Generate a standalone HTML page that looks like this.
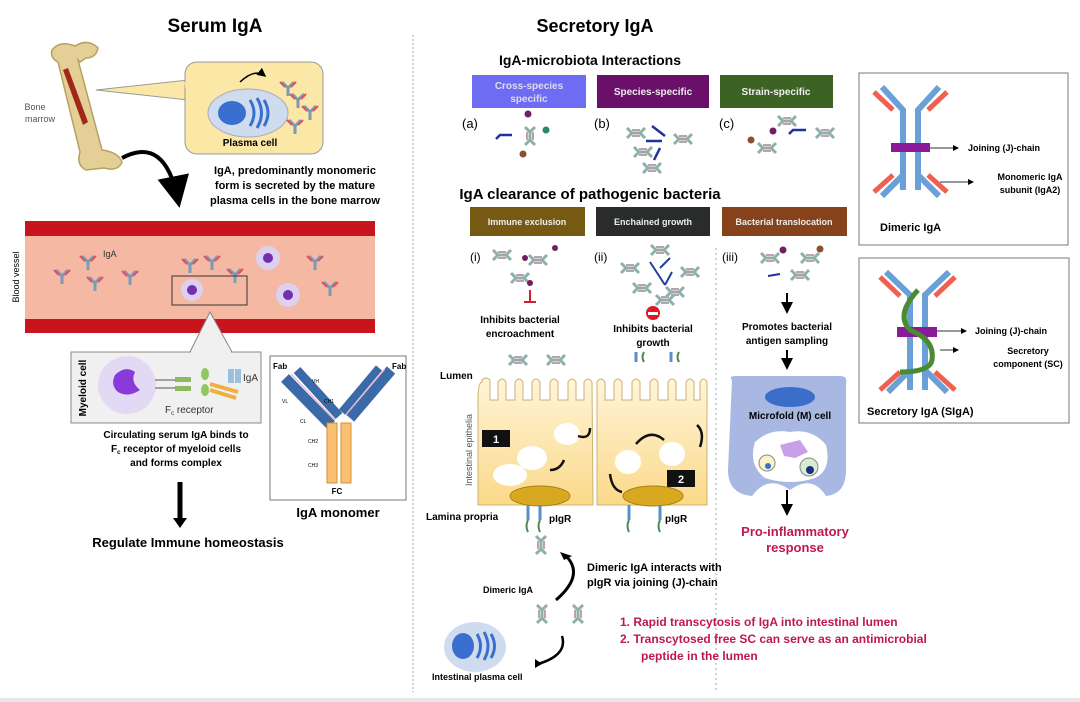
<!DOCTYPE html>
<html><head><meta charset="utf-8"><style>
html,body{margin:0;padding:0;background:#fff;}
svg{display:block;font-family:"Liberation Sans",Arial,sans-serif;}
.b{font-weight:bold;}
</style></head><body>
<svg width="1080" height="702" viewBox="0 0 1080 702" xmlns="http://www.w3.org/2000/svg">
<defs>
<g id="ab">
 <path d="M0,0 L0,8 M0,0 L-6,-6 M0,0 L6,-6" stroke="#7a9bb8" stroke-width="3" fill="none"/>
 <path d="M-3,-1 L-8,-6 M3,-1 L8,-6" stroke="#e05060" stroke-width="2" fill="none"/>
</g>
<g id="sab">
 <path d="M-9,-5 L-4,0 L4,0 L9,-5 M-9,5 L-4,0 M4,0 L9,5" stroke="#8fb0a8" stroke-width="3" fill="none"/>
 <path d="M-4,-3 L4,-3 M-4,3 L4,3" stroke="#c0a0b0" stroke-width="2"/>
</g>
<marker id="ah" markerWidth="8" markerHeight="8" refX="6" refY="4" orient="auto"><path d="M0,0 L8,4 L0,8z" fill="#000"/></marker>
<marker id="ahs" markerWidth="6" markerHeight="6" refX="5" refY="3" orient="auto"><path d="M0,0 L6,3 L0,6z" fill="#000"/></marker>
<linearGradient id="cellg" x1="0" y1="0" x2="0" y2="1"><stop offset="0" stop-color="#fff5d8"/><stop offset="1" stop-color="#fbd98a"/></linearGradient>
</defs>

<line x1="413" y1="35" x2="413" y2="692" stroke="#9ab" stroke-dasharray="2,2"/>
<rect x="0" y="698" width="1080" height="4" fill="#e6e6e6"/>

<!-- LEFT -->
<text x="215" y="32" font-size="19" class="b" text-anchor="middle">Serum IgA</text>
<path d="M52,50 Q60,40 75,46 Q88,38 98,48 Q96,58 86,58 L80,62 L78,60 L102,150 Q118,152 122,162 Q118,172 104,168 L86,170 Q76,165 80,152 L58,62 Q50,58 52,50z" fill="#e4d096" stroke="#b8a060" stroke-width="1.5"/>
<path d="M63,70 L68,68 L88,122 L83,125z" fill="#a02818"/>
<text x="35" y="110" font-size="9" fill="#555" text-anchor="middle">Bone</text>
<text x="40" y="122" font-size="9" fill="#555" text-anchor="middle">marrow</text>
<path d="M96,90 L188,80 L188,100z" fill="#fbe7a6" stroke="#999" stroke-width="1"/>
<rect x="185" y="62" width="138" height="92" rx="12" fill="#fbe7a6" stroke="#999"/>
<path d="M186,82 L188,98" stroke="#fbe7a6" stroke-width="3"/>
<ellipse cx="248" cy="113" rx="40" ry="24" fill="#cfdcf0" stroke="#aab"/>
<ellipse cx="232" cy="113" rx="14" ry="12" fill="#3a6fd0"/>
<path d="M250,100 Q258,113 250,126 M257,98 Q266,113 257,128 M264,100 Q272,113 264,126" stroke="#3a6fd0" stroke-width="3" fill="none"/>
<path d="M240,82 Q255,68 265,76" stroke="#000" stroke-width="1.5" fill="none" marker-end="url(#ahs)"/>
<use href="#ab" x="288" y="88"/><use href="#ab" x="298" y="100"/><use href="#ab" x="310" y="112"/><use href="#ab" x="295" y="126"/>
<text x="250" y="146" font-size="10" class="b" text-anchor="middle">Plasma cell</text>
<text x="295" y="174" font-size="11" class="b" text-anchor="middle">IgA, predominantly monomeric</text>
<text x="295" y="189" font-size="11" class="b" text-anchor="middle">form is secreted by the mature</text>
<text x="295" y="204" font-size="11" class="b" text-anchor="middle">plasma cells in the bone marrow</text>
<path d="M122,158 Q165,135 178,200" stroke="#000" stroke-width="4" fill="none" marker-end="url(#ah)"/>
<rect x="25" y="221" width="350" height="112" fill="#f5b8a2"/>
<rect x="25" y="221" width="350" height="15" fill="#c8141c"/>
<rect x="25" y="319" width="350" height="14" fill="#c8141c"/>
<text transform="translate(19,277) rotate(-90)" font-size="9" text-anchor="middle">Blood vessel</text>
<text x="103" y="257" font-size="9" fill="#333">IgA</text>
<use href="#ab" x="62" y="276"/><use href="#ab" x="88" y="262"/><use href="#ab" x="95" y="283"/><use href="#ab" x="130" y="277"/>
<use href="#ab" x="190" y="265"/><use href="#ab" x="212" y="262"/><use href="#ab" x="235" y="275"/><use href="#ab" x="315" y="262"/><use href="#ab" x="330" y="288"/>
<circle cx="268" cy="258" r="12" fill="#ddd0f0"/><circle cx="268" cy="258" r="5" fill="#7030b0"/>
<circle cx="288" cy="295" r="12" fill="#ddd0f0"/><circle cx="288" cy="295" r="5" fill="#7030b0"/>
<rect x="172" y="276" width="75" height="29" fill="none" stroke="#333"/>
<circle cx="192" cy="290" r="11" fill="#ddd0f0"/><circle cx="192" cy="290" r="5" fill="#7030b0"/>
<path d="M190,352 L210,312 L232,352z" fill="#f0f0f0" stroke="#888"/>
<rect x="71" y="352" width="190" height="71" fill="#f0f0f0" stroke="#888"/>
<path d="M191,352 L231,352" stroke="#f0f0f0" stroke-width="2"/>
<text transform="translate(86,388) rotate(-90)" font-size="10" class="b" text-anchor="middle">Myeloid cell</text>
<circle cx="127" cy="385" r="29" fill="#e2daf5"/>
<path d="M115,375 Q125,365 135,372 Q130,382 140,390 Q128,398 118,392 Q110,385 115,375z" fill="#8a3ad8"/>
<path d="M155,380 L175,380 M155,388 L175,388" stroke="#555"/>
<rect x="175" y="377" width="16" height="5" fill="#90b860"/><rect x="175" y="386" width="16" height="5" fill="#90b860"/>
<ellipse cx="205" cy="374" rx="4" ry="6" fill="#90c860"/><ellipse cx="205" cy="390" rx="4" ry="6" fill="#90c860"/>
<path d="M210,384 L238,392 M210,390 L236,398" stroke="#f0b040" stroke-width="4"/>
<rect x="228" y="369" width="6" height="14" fill="#9ac0e0"/><rect x="235" y="369" width="6" height="14" fill="#9ac0e0"/>
<text x="243" y="381" font-size="10" fill="#333">IgA</text>
<text x="165" y="413" font-size="10" fill="#333">F<tspan font-size="6" dy="2">c</tspan><tspan dy="-2"> receptor</tspan></text>
<text x="176" y="438" font-size="10" class="b" text-anchor="middle">Circulating serum IgA binds to</text>
<text x="176" y="452" font-size="10" class="b" text-anchor="middle">F<tspan font-size="6" dy="2">c</tspan><tspan dy="-2"> receptor of myeloid cells</tspan></text>
<text x="176" y="466" font-size="10" class="b" text-anchor="middle">and forms complex</text>
<line x1="180" y1="482" x2="180" y2="520" stroke="#000" stroke-width="5"/>
<path d="M173,518 L187,518 L180,528z" fill="#000"/>
<text x="188" y="547" font-size="13" class="b" text-anchor="middle">Regulate Immune homeostasis</text>
<rect x="270" y="356" width="136" height="144" fill="#fff" stroke="#777"/>
<path d="M285,378 L331,425" stroke="#3a6aa8" stroke-width="11"/>
<path d="M297,370 L339,416" stroke="#3a6aa8" stroke-width="9"/>
<path d="M391,370 L350,418" stroke="#3a6aa8" stroke-width="11"/>
<path d="M379,368 L342,412" stroke="#3a6aa8" stroke-width="8"/>
<path d="M291,374 L335,420 M385,369 L346,415" stroke="#f0a0c0" stroke-width="1"/>
<rect x="327" y="423" width="10" height="60" fill="#f8c070" stroke="#d89030"/>
<rect x="341" y="423" width="10" height="60" fill="#f8c070" stroke="#d89030"/>
<text x="273" y="369" font-size="8" class="b">Fab</text><text x="392" y="369" font-size="8" class="b">Fab</text>
<text x="337" y="494" font-size="8" class="b" text-anchor="middle">FC</text>
<text x="312" y="383" font-size="5">VH</text><text x="282" y="403" font-size="5">VL</text><text x="324" y="403" font-size="5">CH1</text>
<text x="300" y="423" font-size="5">CL</text><text x="308" y="443" font-size="5">CH2</text><text x="308" y="467" font-size="5">CH3</text>
<text x="338" y="517" font-size="13" class="b" text-anchor="middle">IgA monomer</text>

<!-- RIGHT -->
<text x="595" y="32" font-size="18" class="b" text-anchor="middle">Secretory IgA</text>
<text x="590" y="65" font-size="14" class="b" text-anchor="middle">IgA-microbiota Interactions</text>
<rect x="472" y="75" width="114" height="33" fill="#6f6cf4"/>
<text x="529" y="89" font-size="10" fill="#dde" text-anchor="middle" class="b">Cross-species</text>
<text x="529" y="102" font-size="10" fill="#dde" text-anchor="middle" class="b">specific</text>
<rect x="597" y="75" width="112" height="33" fill="#6a0f6a"/>
<text x="653" y="95" font-size="10" fill="#eee" text-anchor="middle" class="b">Species-specific</text>
<rect x="720" y="75" width="113" height="33" fill="#3d6324"/>
<text x="776" y="95" font-size="10" fill="#eee" text-anchor="middle" class="b">Strain-specific</text>
<text x="462" y="128" font-size="13">(a)</text><text x="594" y="128" font-size="13">(b)</text><text x="719" y="128" font-size="13">(c)</text>
<circle cx="528" cy="114" r="3.5" fill="#702060"/><circle cx="546" cy="130" r="3.5" fill="#2a8a60"/><circle cx="523" cy="154" r="3.5" fill="#8a5030"/>
<use href="#sab" x="530" y="136" transform="rotate(90 530 136)"/>
<path d="M496,139 L500,135 L512,135" stroke="#2030a0" stroke-width="2.5" fill="none"/>
<use href="#sab" x="636" y="133"/><use href="#sab" x="683" y="139"/><use href="#sab" x="643" y="152"/><use href="#sab" x="652" y="168"/>
<path d="M652,126 L665,136 M646,141 L662,141 M660,148 L654,160" stroke="#2030a0" stroke-width="2.5"/>
<circle cx="751" cy="140" r="3.5" fill="#8a5030"/><circle cx="773" cy="131" r="3.5" fill="#702060"/>
<use href="#sab" x="787" y="121"/><use href="#sab" x="825" y="133"/><use href="#sab" x="767" y="148"/>
<path d="M789,134 L793,130 L806,130" stroke="#2030a0" stroke-width="2.5" fill="none"/>
<text x="590" y="199" font-size="15" class="b" text-anchor="middle">IgA clearance of pathogenic bacteria</text>
<rect x="470" y="207" width="115" height="29" fill="#765a14"/>
<text x="527" y="225" font-size="9" fill="#eee" text-anchor="middle" class="b">Immune exclusion</text>
<rect x="596" y="207" width="114" height="29" fill="#2a2c2c"/>
<text x="653" y="225" font-size="9" fill="#eee" text-anchor="middle" class="b">Enchained growth</text>
<rect x="722" y="207" width="125" height="29" fill="#86421a"/>
<text x="784" y="225" font-size="9" fill="#eee" text-anchor="middle" class="b">Bacterial translocation</text>
<text x="470" y="261" font-size="12">(i)</text><text x="594" y="261" font-size="12">(ii)</text><text x="722" y="261" font-size="12">(iii)</text>
<use href="#sab" x="502" y="255"/><use href="#sab" x="538" y="260"/><use href="#sab" x="520" y="278"/>
<circle cx="525" cy="258" r="3" fill="#702060"/><circle cx="555" cy="248" r="3" fill="#702060"/><circle cx="530" cy="283" r="3" fill="#702060"/>
<path d="M530,290 L530,302 M524,302 L536,302" stroke="#d02030" stroke-width="2"/>
<text x="520" y="323" font-size="10" class="b" text-anchor="middle">Inhibits bacterial</text>
<text x="520" y="337" font-size="10" class="b" text-anchor="middle">encroachment</text>
<use href="#sab" x="660" y="250"/><use href="#sab" x="630" y="268"/><use href="#sab" x="690" y="272"/><use href="#sab" x="642" y="288"/><use href="#sab" x="675" y="292"/><use href="#sab" x="665" y="300"/>
<path d="M650,262 L665,285 M660,268 L670,258 M665,285 L672,272" stroke="#2040a0" stroke-width="2"/>
<circle cx="653" cy="313" r="7" fill="#e01828"/><rect x="648" y="312" width="10" height="3" fill="#fff"/>
<text x="653" y="332" font-size="10" class="b" text-anchor="middle">Inhibits bacterial</text>
<text x="653" y="346" font-size="10" class="b" text-anchor="middle">growth</text>
<line x1="716" y1="248" x2="716" y2="690" stroke="#9ab" stroke-dasharray="2,3"/>
<use href="#sab" x="770" y="258"/><use href="#sab" x="810" y="258"/><use href="#sab" x="800" y="275"/>
<circle cx="783" cy="250" r="3.5" fill="#702060"/><circle cx="820" cy="249" r="3.5" fill="#8a5030"/>
<path d="M768,276 L780,274" stroke="#2030a0" stroke-width="2"/>
<line x1="787" y1="293" x2="787" y2="312" stroke="#000" stroke-width="2" marker-end="url(#ahs)"/>
<text x="787" y="330" font-size="10" class="b" text-anchor="middle">Promotes bacterial</text>
<text x="787" y="344" font-size="10" class="b" text-anchor="middle">antigen sampling</text>
<line x1="787" y1="350" x2="787" y2="368" stroke="#000" stroke-width="2" marker-end="url(#ahs)"/>
<use href="#sab" x="518" y="360"/><use href="#sab" x="556" y="360"/>
<path d="M636,352 L636,362 M671,352 L671,362" stroke="#5a90c8" stroke-width="3"/>
<path d="M644,352 q-3,5 0,10 M679,352 q-3,5 0,10" stroke="#4a8a50" stroke-width="2" fill="none"/>
<text x="440" y="379" font-size="10" class="b">Lumen</text>
<text transform="translate(472,450) rotate(-90)" font-size="9" fill="#555" text-anchor="middle">Intestinal epithelia</text>
<path d="M478,505 L478,400 Q478,382 482,382 L482,380 Q486,376 490,380 L490,400 L498,400 L498,382 Q502,376 506,382 L506,400 L515,400 L515,382 Q519,376 523,382 L523,400 L532,400 L532,382 Q536,376 540,382 L540,400 L550,400 L550,382 Q554,376 558,382 L558,400 L568,400 L568,382 Q572,376 576,382 L576,400 L584,400 L584,382 Q588,376 592,382 L593,505z" fill="url(#cellg)" stroke="#ccb070"/>
<path d="M597,505 L597,382 Q601,376 605,382 L605,400 L614,400 L614,382 Q618,376 622,382 L622,400 L632,400 L632,382 Q636,376 640,382 L640,400 L650,400 L650,382 Q654,376 658,382 L658,400 L668,400 L668,382 Q672,376 676,382 L676,400 L686,400 L686,382 Q690,376 694,382 L694,400 L700,400 L700,382 Q704,376 707,382 L707,505z" fill="url(#cellg)" stroke="#ccb070"/>
<rect x="482" y="430" width="28" height="17" fill="#111"/><text x="496" y="443" font-size="11" fill="#fff" class="b" text-anchor="middle">1</text>
<rect x="667" y="470" width="28" height="17" fill="#111"/><text x="681" y="483" font-size="11" fill="#fff" text-anchor="middle" class="b">2</text>
<ellipse cx="510" cy="475" rx="17" ry="11" fill="#fff"/><ellipse cx="532" cy="458" rx="15" ry="12" fill="#fff"/><ellipse cx="567" cy="434" rx="13" ry="11" fill="#fff"/>
<ellipse cx="628" cy="462" rx="13" ry="12" fill="#fff"/><ellipse cx="672" cy="454" rx="13" ry="12" fill="#fff"/>
<path d="M550,470 Q560,470 564,460 M578,436 Q590,440 590,428 M636,444 Q650,428 664,440 M610,474 Q612,490 622,492 M697,425 Q705,432 700,447" stroke="#111" stroke-width="2.5" fill="none"/>
<ellipse cx="540" cy="496" rx="30" ry="10" fill="#d8a820" stroke="#a88010"/>
<ellipse cx="653" cy="496" rx="30" ry="10" fill="#d8a820" stroke="#a88010"/>
<path d="M528,505 L528,520 M540,505 L540,520 M629,505 L629,520 M660,505 L660,520" stroke="#5a90c8" stroke-width="3"/>
<path d="M528,520 q-3,6 0,12 M540,520 q-3,6 0,12 M629,520 q-3,6 0,12 M660,520 q-3,6 0,12" stroke="#4a8a50" stroke-width="2" fill="none"/>
<text x="426" y="520" font-size="10" class="b">Lamina propria</text>
<text x="549" y="522" font-size="10" class="b">pIgR</text><text x="665" y="522" font-size="10" class="b">pIgR</text>
<path d="M732,380 Q728,376 736,376 L840,376 Q848,376 846,384 L846,470 Q846,494 826,496 Q812,474 790,490 Q768,474 752,496 Q728,494 728,470z" fill="#a9b8e2"/>
<ellipse cx="790" cy="397" rx="25" ry="10" fill="#3a6ec8"/>
<text x="790" y="419" font-size="10" class="b" text-anchor="middle">Microfold (M) cell</text>
<path d="M755,442 Q770,428 790,432 Q812,428 826,445 Q832,470 815,478 Q790,486 765,478 Q748,465 755,442z" fill="#fff"/>
<path d="M780,445 L800,440 L808,452 L795,458 L784,456z" fill="#c8a0e8"/>
<circle cx="767" cy="463" r="8" fill="#f8f4c8" stroke="#888"/><circle cx="768" cy="466" r="3" fill="#3a6ec8"/>
<circle cx="809" cy="467" r="9" fill="#d8ecd0" stroke="#888"/><circle cx="810" cy="470" r="4" fill="#1a3080"/>
<line x1="787" y1="490" x2="787" y2="514" stroke="#000" stroke-width="2" marker-end="url(#ahs)"/>
<text x="795" y="536" font-size="13" class="b" fill="#c0184a" text-anchor="middle">Pro-inflammatory</text>
<text x="795" y="552" font-size="13" class="b" fill="#c0184a" text-anchor="middle">response</text>
<use href="#sab" x="541" y="545" transform="rotate(90 541 545)"/>
<path d="M566,556 Q585,575 556,600" stroke="#000" stroke-width="3" fill="none"/>
<path d="M560,552 L572,556 L564,560z" fill="#000"/>
<text x="587" y="571" font-size="11" class="b">Dimeric IgA interacts with</text>
<text x="587" y="586" font-size="11" class="b">pIgR via joining (J)-chain</text>
<text x="483" y="593" font-size="9" class="b">Dimeric IgA</text>
<use href="#sab" x="542" y="614" transform="rotate(90 542 614)"/><use href="#sab" x="578" y="614" transform="rotate(90 578 614)"/>
<path d="M562,636 Q568,655 538,664" stroke="#000" stroke-width="2.5" fill="none"/>
<path d="M535,659 L535,668 L542,664z" fill="#000"/>
<ellipse cx="475" cy="647" rx="31" ry="25" fill="#cfdcf0"/>
<ellipse cx="463" cy="646" rx="11" ry="13" fill="#3a6fd0"/>
<path d="M477,634 Q484,646 477,658 M484,632 Q492,646 484,660 M491,634 Q498,646 491,658" stroke="#3a6fd0" stroke-width="3" fill="none"/>
<text x="432" y="680" font-size="9" class="b">Intestinal plasma cell</text>
<text x="620" y="626" font-size="12" class="b" fill="#c0184a">1.  Rapid transcytosis of IgA into intestinal lumen</text>
<text x="620" y="643" font-size="12" class="b" fill="#c0184a">2.  Transcytosed free SC can serve as an antimicrobial</text>
<text x="641" y="660" font-size="12" class="b" fill="#c0184a">peptide in the lumen</text>
<rect x="859" y="73" width="209" height="172" fill="#fff" stroke="#777"/>
<path d="M903,190 L903,110 L882,87 M918,190 L918,110 L939,87" stroke="#6aa0d8" stroke-width="6" fill="none"/>
<path d="M893,110 L874,92 M928,110 L947,92" stroke="#f06050" stroke-width="5"/>
<path d="M903,175 L882,196 M918,175 L939,196" stroke="#6aa0d8" stroke-width="6"/>
<path d="M893,175 L874,192 M928,175 L947,192" stroke="#f06050" stroke-width="5"/>
<rect x="891" y="143" width="39" height="9" fill="#8a1a9a"/>
<line x1="930" y1="148" x2="958" y2="148" stroke="#333" marker-end="url(#ahs)"/>
<text x="968" y="151" font-size="9" class="b">Joining (J)-chain</text>
<line x1="940" y1="182" x2="973" y2="182" stroke="#333" marker-end="url(#ahs)"/>
<text x="1030" y="180" font-size="9" class="b" text-anchor="middle">Monomeric IgA</text>
<text x="1030" y="193" font-size="9" class="b" text-anchor="middle">subunit (IgA2)</text>
<text x="880" y="231" font-size="11" class="b">Dimeric IgA</text>
<rect x="859" y="258" width="210" height="165" fill="#fff" stroke="#777"/>
<path d="M910,390 L910,295 L886,272 M925,390 L925,295 L949,272" stroke="#6aa0d8" stroke-width="6" fill="none"/>
<path d="M900,296 L880,277 M935,296 L955,277" stroke="#f06050" stroke-width="5"/>
<path d="M910,370 L888,392 M925,370 L947,392" stroke="#6aa0d8" stroke-width="6"/>
<path d="M900,372 L880,390 M935,372 L955,390" stroke="#f06050" stroke-width="5"/>
<rect x="897" y="327" width="40" height="10" fill="#8a1a9a"/>
<path d="M918,290 Q895,315 910,330 Q935,340 932,360 Q930,372 900,372" stroke="#4a8a30" stroke-width="5" fill="none"/>
<line x1="937" y1="331" x2="966" y2="331" stroke="#333" marker-end="url(#ahs)"/>
<text x="975" y="334" font-size="9" class="b">Joining (J)-chain</text>
<line x1="940" y1="350" x2="958" y2="350" stroke="#333" marker-end="url(#ahs)"/>
<text x="1028" y="354" font-size="9" class="b" text-anchor="middle">Secretory</text>
<text x="1028" y="367" font-size="9" class="b" text-anchor="middle">component (SC)</text>
<text x="867" y="415" font-size="11" class="b">Secretory IgA (SIgA)</text>
</svg>
</body></html>
